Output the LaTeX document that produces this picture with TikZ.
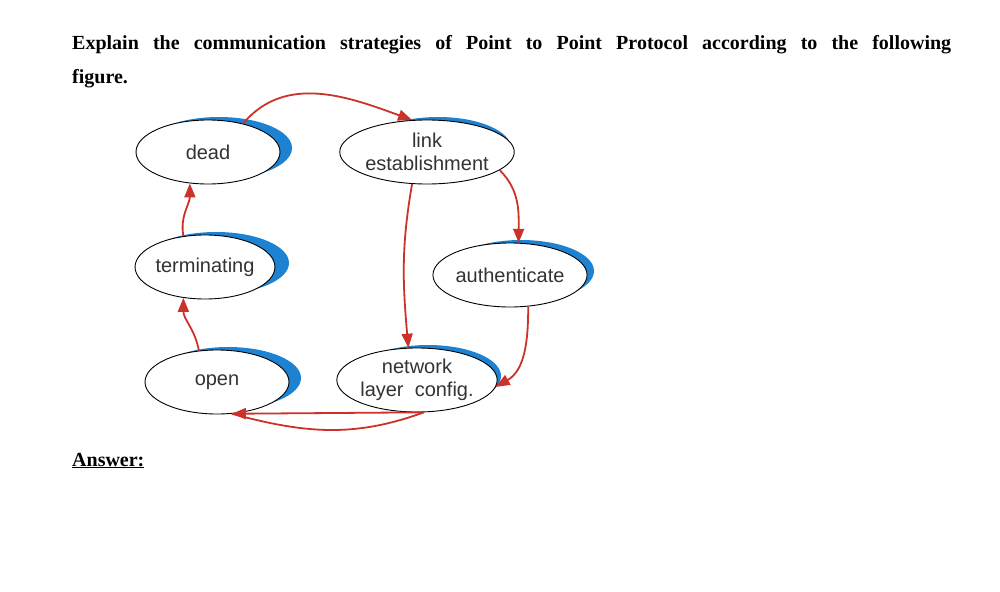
\documentclass[tikz,border=0pt]{standalone}
\usepackage{fontspec}
\setmainfont{Liberation Serif}
\newfontfamily\lblfont{Liberation Sans}
\usetikzlibrary{arrows.meta,shapes.geometric}
\definecolor{arr}{RGB}{204,50,40}
\definecolor{crest}{RGB}{30,130,210}
\tikzset{
  st/.style={ellipse,draw=black,line width=0.9pt,fill=white,inner sep=0pt,
    minimum width=144pt,minimum height=64pt,align=center,
    font=\lblfont\fontsize{20}{23}\selectfont,text=black!80},
  crescent/.style={ellipse,fill=crest,inner sep=0pt,minimum width=146pt,minimum height=62pt},
  tr/.style={draw=arr,line width=1.8pt,-{Triangle[length=14pt,width=11pt]}}
}
\begin{document}
\begin{tikzpicture}[x=1pt,y=-1pt]
\useasboundingbox (0,0) rectangle (1000,591);
\node[anchor=base west,font=\bfseries\fontsize{20}{23}\selectfont,inner sep=0pt] (title) at (72,50)
 {\makebox[879pt][s]{Explain the communication strategies of Point to Point Protocol according to the following}};
\node[anchor=base west,font=\bfseries\fontsize{20}{23}\selectfont,inner sep=0pt] (title2) at (72,84) {figure.};
\node[anchor=base west,font=\bfseries\fontsize{20}{23}\selectfont,inner sep=0pt] (ans) at (72,466) {\underline{Answer:}};
% crescents
\foreach \x/\y in {208/152,427/152,205/267,510/275,217/382,417/380}
  \node[crescent] at (\x+11,\y-4) {};
\node[st] (dead) at (208,152) {dead};
\node[st] (link) at (427,152) {link\\establishment};
\node[st,minimum width=134pt] (term) at (205,267) {terminating};
\node[st] (auth) at (510,275) {authenticate};
\node[st] (open) at (217,382) {open};
\node[st] (net) at (417,380) {network\\layer\ \ config.};
% transitions
\draw[tr] (dead.39) to[out=50,in=160] (link.115);
\draw[tr] (link.245) to[out=-100,in=95] (net.105);
\draw[tr] (link.-14) to[out=-45,in=90] (auth.75);
\draw[tr] (auth.-60) to[out=-90,in=30] (net.-5);
\draw[tr] (net.-78) -- (open.-65);
\draw[draw=arr,line width=1.8pt] (net.-78) to[out=-160,in=-15] (open.-65);
\draw[tr] (open.120) to[out=100,in=-90] (term.235);
\draw[tr] (term.125) to[out=100,in=-90] (dead.240);
\end{tikzpicture}
\end{document}
